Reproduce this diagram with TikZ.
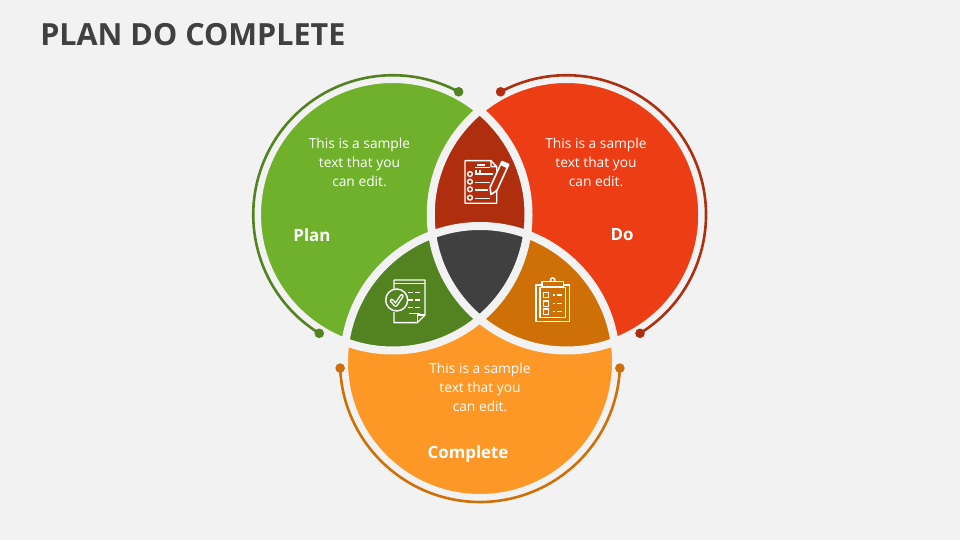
\documentclass[tikz,border=0pt]{standalone}
\usepackage{fontspec}
\setmainfont{Open Sans}
\usetikzlibrary{calc}
\definecolor{pagebg}{HTML}{F2F2F2}
\definecolor{titlegray}{HTML}{404040}
\definecolor{plangreen}{HTML}{6FB12A}
\definecolor{planline}{HTML}{538321}
\definecolor{dored}{HTML}{EC3D15}
\definecolor{doline}{HTML}{AF2E0E}
\definecolor{completeorange}{HTML}{FD9726}
\definecolor{completeline}{HTML}{CE7006}
\tikzset{
	sampletext/.style={text=white,align=center,font=\fontsize{9.8}{13.5}\selectfont,inner sep=0pt},
	heading/.style={text=white,font=\fontsize{12}{14}\selectfont\bfseries,inner sep=0pt},
	enddot/.style={circle,fill=#1,inner sep=0pt,minimum size=.24cm},
	ringline/.style={draw=#1,line width=.065cm},
	iconline/.style={draw=white,line width=.035cm,line join=round}
}
\begin{document}
\begin{tikzpicture}[x=.025cm,y=.025cm]
\def\plancircle{(392.75,325.25) circle (135.75)}
\def\docircle{(566.5,325.25) circle (135.75)}
\def\completecircle{(480,178) circle (136)}
\fill[pagebg] (0,0) rectangle (960,540);
\useasboundingbox (0,0) rectangle (960,540);
\node[anchor=west,text=titlegray,inner sep=0pt,font=\fontsize{21.7}{26}\selectfont\bfseries] (title) at (40,505.5) {PLAN DO COMPLETE};
\coordinate (planc) at (392.75,325.25);
\coordinate (doc) at (566.5,325.25);
\coordinate (completec) at (480,178);
\fill[plangreen] \plancircle;
\fill[dored] \docircle;
\fill[completeorange] \completecircle;
\begin{scope}
	\clip \plancircle;
	\fill[doline] \docircle;
	\fill[planline] \completecircle;
\end{scope}
\begin{scope}
	\clip \docircle;
	\fill[completeline] \completecircle;
	\clip \plancircle;
	\fill[doline] (300,180) rectangle (660,450);
	\clip \completecircle;
	\fill[titlegray] (300,180) rectangle (660,450);
\end{scope}
\draw[pagebg,line width=.2cm] \plancircle \docircle \completecircle;
\node[enddot=planline] (plan1) at ($(planc)+(61.8:139.5)$) {};
\node[enddot=planline] (plan2) at ($(planc)+(238.2:139.5)$) {};
\node[enddot=doline] (do1) at ($(doc)+(118.2:139.5)$) {};
\node[enddot=doline] (do2) at ($(doc)+(-58.2:139.5)$) {};
\node[enddot=completeline] (complete1) at ($(completec)+(182.5:140)$) {};
\node[enddot=completeline] (complete2) at ($(completec)+(-2.5:140)$) {};
\draw[ringline=planline] (plan1.center) arc[start angle=61.8,end angle=238.2,radius=139.5];
\draw[ringline=doline] (do1.center) arc[start angle=118.2,end angle=-58.2,radius=139.5];
\draw[ringline=completeline] (complete1.center) arc[start angle=182.5,end angle=357.5,radius=140];
\node[sampletext] (plantext) at (359.5,378) {This is a sample\\text that you\\can edit.};
\node[sampletext] (dotext) at (596,378) {This is a sample\\text that you\\can edit.};
\node[sampletext] (completetext) at (480,153) {This is a sample\\text that you\\can edit.};
\node[heading] (planlabel) at (312,304.5) {Plan};
\node[heading] (dolabel) at (622,305) {Do};
\node[heading] (completelabel) at (468,85.5) {Complete};
% list icon
\draw[iconline] (491,379.3) -- (465,379.3) -- (465,336.7) -- (496.7,336.7) -- (496.7,373.3) -- (491,379.3) -- (491,373.3) -- (496.7,373.3);
\foreach \y in {366,358.3,350.7,342.3}
	\draw[iconline] (470,\y) circle (2.4);
\foreach \y/\xa/\xb in {375/476.7/485,372.7/475/490,366/475/493,357.7/475/490,350/475/488,341.7/475/490}
	\draw[iconline] (\xa,\y) -- (\xb,\y);
\draw[white,line width=.06cm,dash pattern=on 1.5pt off 1pt] (475,368.5) -- (482,368.5);
\draw[iconline,fill=doline,line width=.04cm] (491,345.5) -- (490.1,352.5) -- (501.9,378.5) -- (508.7,375.5) -- (496.9,349.5) -- cycle;
\fill[white] (501.9,378.5) -- (508.7,375.5) -- (507,371.9) -- (500.3,374.9) -- cycle;
% check icon
\draw[iconline] (394,260) -- (394,250) (394,228) -- (394,217.3) -- (417.3,217.3) -- (425,225) -- (425,260) -- (394,260);
\draw[iconline] (394,256.7) -- (425,256.7) (417.3,217.3) -- (417.3,225) -- (425,225);
\foreach \y in {247.7,240,232.7}{
	\draw[iconline] (408,\y) -- (413,\y);
	\draw[iconline] (415,\y) -- (419.5,\y);
}
\draw[iconline] (409,226.7) -- (419.5,226.7);
\draw[iconline,fill=planline] (396.7,240) circle (11);
\draw[white,line width=.1cm,line cap=round,line join=round] (391.7,239.3) -- (395.7,235) -- (401.7,244);
\draw[planline,line width=.03cm,line cap=round,line join=round] (391.7,239.3) -- (395.7,235) -- (401.7,244);
% clipboard icon
\draw[iconline] (536,218.3) rectangle (569.7,255);
\draw[iconline] (540,222.3) rectangle (565.7,252.7);
\draw[iconline,fill=completeline] (552.7,260) circle (2.2);
\draw[iconline,fill=completeline] (542,253) rectangle (563.5,258.3);
\foreach \y in {244.8,236.2,228.2}{
	\draw[iconline] (543.3,\y-2.6) rectangle (548.3,\y+2.6);
	\draw[iconline] (552.7,\y) -- (555,\y) (556.7,\y) -- (561.7,\y);
}
\end{tikzpicture}
\end{document}
